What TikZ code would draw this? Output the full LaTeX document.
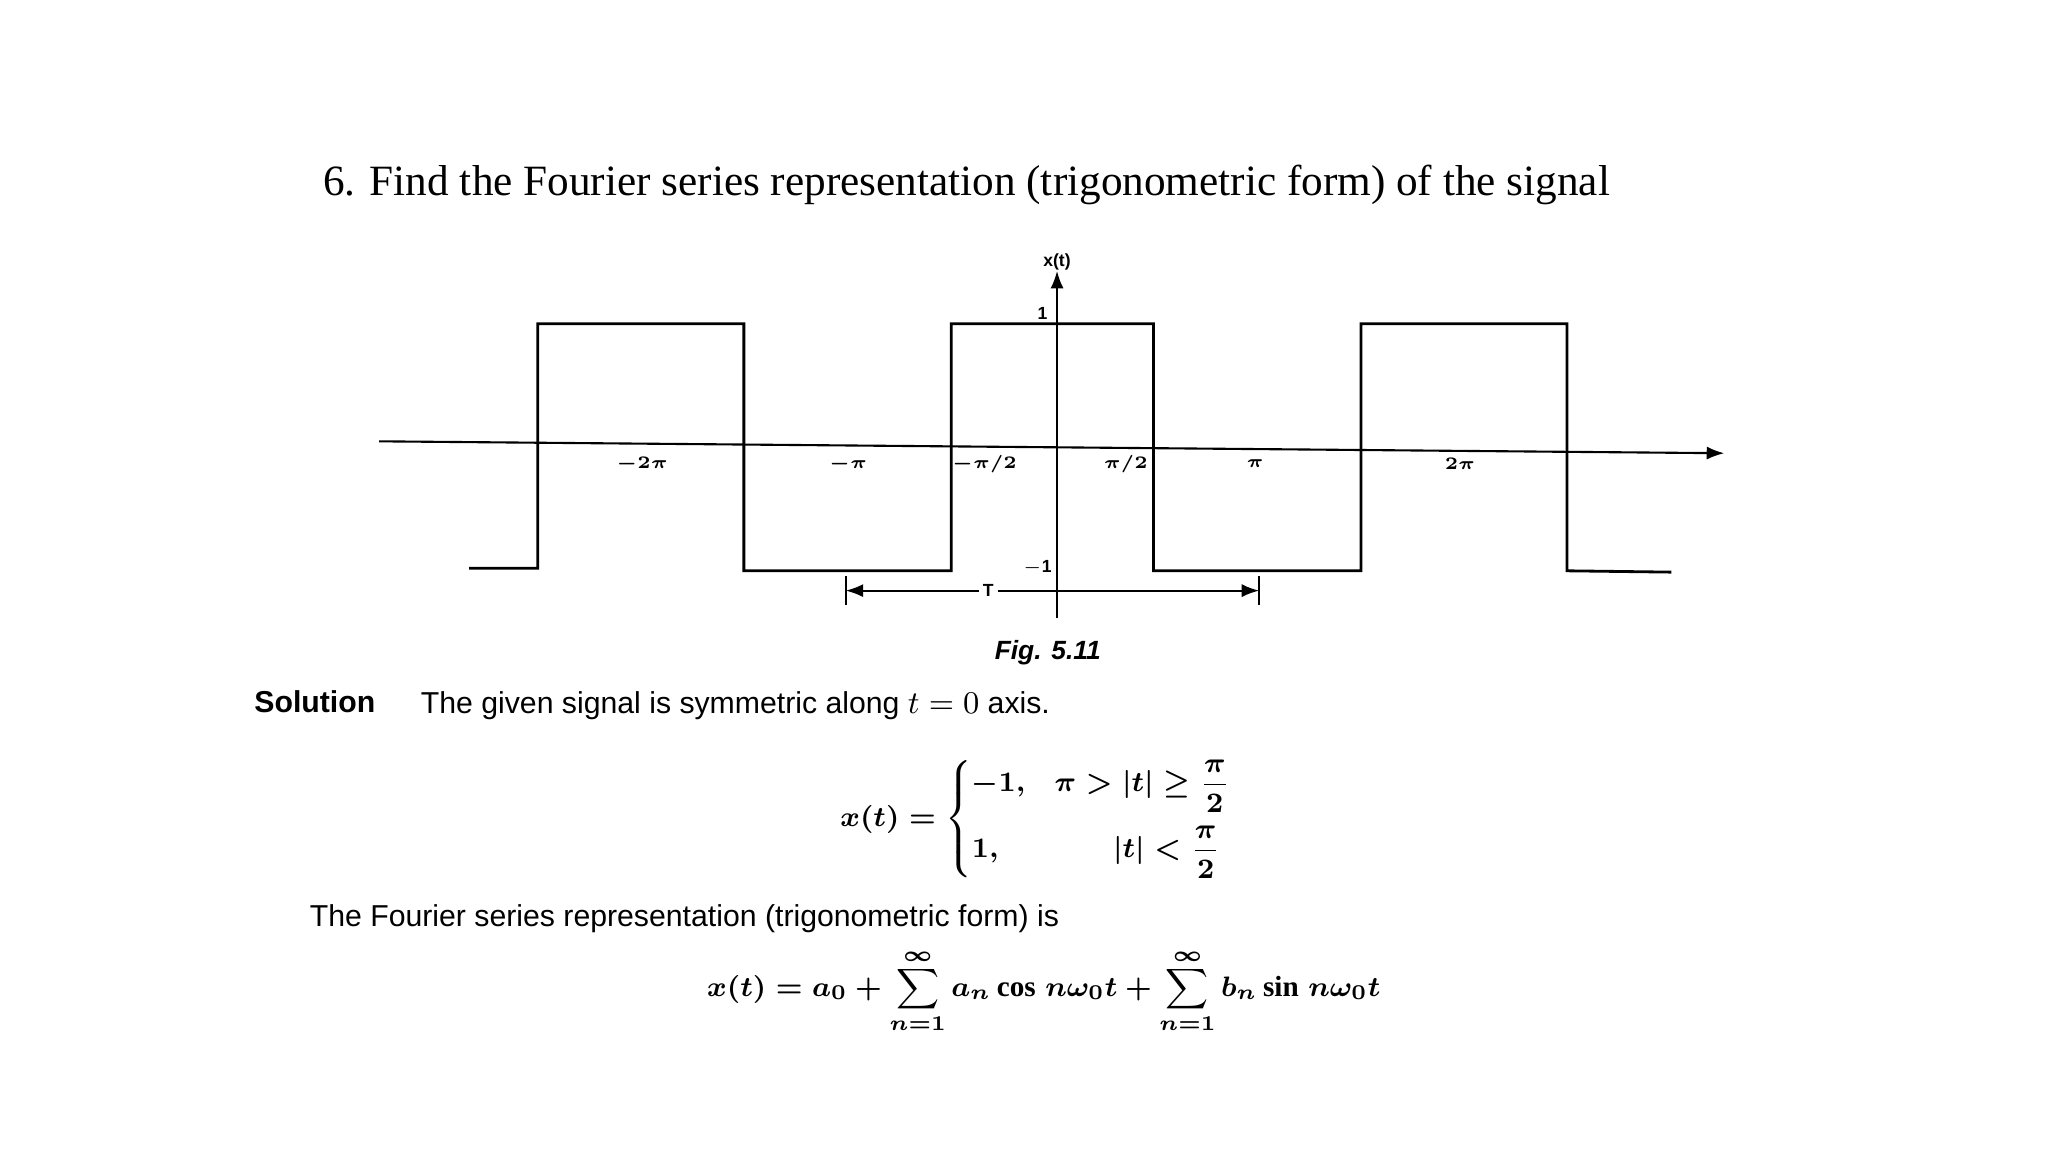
\documentclass[tikz,border=0pt]{standalone}
\usepackage{amsmath}
\usepackage{fontspec}
\setmainfont{Liberation Serif}
\newfontfamily\sol{Liberation Sans}
\usetikzlibrary{arrows.meta}
\begin{document}
\begin{tikzpicture}[x=0.01321cm,y=-0.01321cm,
  sig/.style={line width=0.8pt},
  lab/.style={font=\sol\bfseries\fontsize{5}{6}\selectfont},
  txt/.style={font=\sol\fontsize{8.6}{10}\selectfont, anchor=west}]
\useasboundingbox (0,0) rectangle (1550,872);
\node[anchor=west,font=\fontsize{12.3}{15}\selectfont,inner sep=0pt] (title) at (244,140) {6. Find the Fourier series representation (trigonometric form) of the signal};
% axes
\coordinate (xa) at (287,334);
\coordinate (xb) at (1305,343);
\draw[line width=0.6pt,-{Latex[length=5pt]}] (xa) -- (xb);
\coordinate (ya) at (800,468);
\coordinate (yb) at (800,205);
\draw[line width=0.6pt,-{Latex[length=5pt]}] (ya) -- (yb);
\node[lab] (xt) at (800,198) {x(t)};
\node[lab] (one) at (789,237) {1};
\node[lab] (mone) at (785,430) {$-$1};
% signal
\draw[sig] (355,430) -- (407,430) -- (407,245) -- (563,245) -- (563,432) -- (720,432) -- (720,245) -- (873,245) -- (873,432) -- (1030,432) -- (1030,245) -- (1186,245) -- (1186,432) -- (1265,433);
% tick labels
\node[lab] (l1) at (486,351) {$\boldsymbol{-2\pi}$};
\node[lab] (l2) at (642,351) {$\boldsymbol{-\pi}$};
\node[lab] (l3) at (745,351) {$\boldsymbol{-\pi/2}$};
\node[lab] (l4) at (852,351) {$\boldsymbol{\pi/2}$};
\node[lab] (l5) at (950,351) {$\boldsymbol{\pi}$};
\node[lab] (l6) at (1105,351) {$\boldsymbol{2\pi}$};
% period arrow
\draw[line width=0.6pt] (640,436) -- (640,458) (953,436) -- (953,458);
\coordinate (ta) at (640,447);
\coordinate (tb) at (953,447);
\node[lab,fill=white,inner sep=1pt] (T) at (748,447) {T};
\draw[line width=0.6pt,-{Latex[length=5pt]}] (T) -- (ta);
\draw[line width=0.6pt,-{Latex[length=5pt]}] (T) -- (tb);
\node[font=\sol\bfseries\itshape\fontsize{7.5}{9}\selectfont] (fig) at (793,494) {Fig. 5.11};
\node[font=\sol\fontsize{8.6}{10}\selectfont\bfseries, anchor=west,inner sep=0pt] (solution) at (192,531) {Solution};
\node[txt,inner sep=0pt] (given) at (318,534) {The given signal is symmetric along $t=0$ axis.};
\node[font=\fontsize{8.3}{10}\selectfont] (pw) at (785,620) {$\boldsymbol{x(t)=\begin{cases}-1, & \pi>|t|\ge\dfrac{\pi}{2}\\[6pt] 1, & \qquad |t|<\dfrac{\pi}{2}\end{cases}}$};
\node[txt,inner sep=0pt] (fsr) at (234,695) {The Fourier series representation (trigonometric form) is};
\node[font=\fontsize{8.3}{10}\selectfont] (form) at (790,750) {$\displaystyle\boldsymbol{x(t)=a_0+\sum_{n=1}^{\infty}a_n\,\mathrm{cos}\; n\omega_0 t+\sum_{n=1}^{\infty}b_n\,\mathrm{sin}\; n\omega_0 t}$};
\end{tikzpicture}
\end{document}
